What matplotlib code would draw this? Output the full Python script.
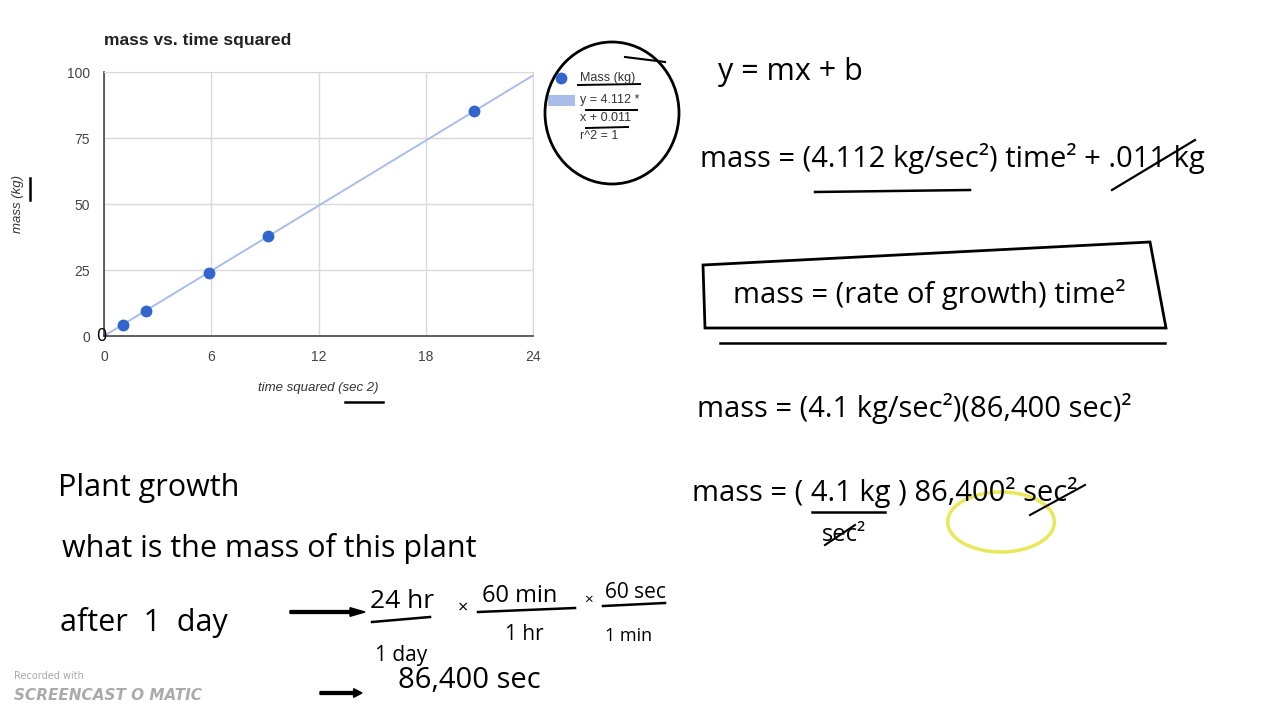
import matplotlib
matplotlib.use("Agg")
import matplotlib.pyplot as plt
from matplotlib.patches import Ellipse, Circle, Polygon, Rectangle
from matplotlib.lines import Line2D
import numpy as np

# ---- data ----
time_sq = [1.04, 2.34, 5.87, 9.19, 20.69]
mass = [4.2, 9.6, 23.9, 37.9, 85.2]
trend_slope = 4.112
trend_intercept = 0.011
trend_x = [0, 24]
x_ticks = [0, 6, 12, 18, 24]
y_ticks = [0, 25, 50, 75, 100]
title = "mass vs. time squared"
x_label = "time squared (sec 2)"
y_label = "mass (kg)"
series_label = "Mass (kg)"
trend_label_lines = ["y = 4.112 *", "x + 0.011", "r^2 = 1"]

W, H = 1280, 720
fig = plt.figure(figsize=(12.8, 7.2), dpi=100)
fig.patch.set_facecolor("white")

def fx(px):
    return px / W

def fy(py):
    return 1 - py / H

ax = fig.add_axes([fx(104), fy(336), fx(533) - fx(104), fy(72) - fy(336)])
chart_font = "Liberation Sans"

ax.plot(trend_x, [trend_slope * x + trend_intercept for x in trend_x],
        color="#a9bde8", lw=1.4, zorder=2)
ax.plot(time_sq, mass, "o", color="#3366cc", ms=7.5, zorder=3)

ax.set_xlim(0, 24)
ax.set_ylim(0, 100)
ax.set_xticks(x_ticks)
ax.set_yticks(y_ticks)
ax.grid(True, color="#d9d9d9", lw=1)
ax.set_axisbelow(True)
for s in ["top", "right"]:
    ax.spines[s].set_color("#d9d9d9")
for s in ["left", "bottom"]:
    ax.spines[s].set_color("#444444")
    ax.spines[s].set_linewidth(1.2)
ax.tick_params(length=0, pad=10, labelsize=10, labelcolor="#444444")
for lab in ax.get_xticklabels() + ax.get_yticklabels():
    lab.set_fontfamily(chart_font)

fig.text(fx(104), fy(41), title, fontsize=12.5, fontweight="bold", family=chart_font,
         va="center", ha="left", color="#222222")
fig.text(fx(318), fy(388), x_label, fontsize=9.5, style="italic", family=chart_font,
         ha="center", va="center", color="#333333")
fig.text(fx(18), fy(204), y_label, fontsize=9.5, style="italic", family=chart_font,
         ha="center", va="center", rotation=90, color="#333333")

# legend (outside right)
fig.add_artist(Line2D([fx(561)], [fy(78)], marker="o", color="#3366cc", ms=7.5,
                      ls="none", transform=fig.transFigure))
fig.add_artist(Rectangle((fx(548), fy(106)), fx(27), 11 / H, fc="#a9bde8", ec="none",
                         transform=fig.transFigure))
fig.text(fx(580), fy(78), series_label, fontsize=9, family=chart_font, color="#333333",
         va="center", ha="left")
for i, s in enumerate(trend_label_lines):
    fig.text(fx(580), fy(100 + 18 * i), s, fontsize=9, family=chart_font,
             color="#333333", va="center", ha="left")

# ---- handwritten annotations ----
hand = "Open Sans"
ink = "black"

def txt(x, y, s, size=21, **kw):
    fig.text(fx(x), fy(y), s, fontsize=size, family=hand, color=ink,
             va="center", ha="left", **kw)

def line(xs, ys, lw=1.8, color=ink):
    fig.add_artist(Line2D([fx(v) for v in xs], [fy(v) for v in ys], color=color,
                          lw=lw, transform=fig.transFigure))

# circle around legend
fig.add_artist(Ellipse((fx(612), fy(113)), fx(134), 142 / H, transform=fig.transFigure,
                       fill=False, ec=ink, lw=2))
line([625, 665], [57, 62], lw=1.5)
# marks on chart
txt(96, 336, "0", size=13)
line([345, 383], [402, 402], lw=1.8)
line([30, 30], [178, 200], lw=1.8)
line([578, 640], [85, 84], lw=1.4)
line([586, 637], [110, 110], lw=1.4)
line([586, 628], [128, 127], lw=1.4)

txt(718, 72, "y = mx + b", size=22)
txt(700, 158, "mass = (4.112 kg/sec²) time² + .011 kg", size=21)
line([815, 970], [192, 190])
line([1112, 1195], [190, 140], lw=1.6)

# box
fig.add_artist(Polygon([(fx(703), fy(265)), (fx(1150), fy(242)), (fx(1166), fy(328)),
                        (fx(705), fy(328))], closed=True, fill=False, ec=ink, lw=2,
                       transform=fig.transFigure))
line([720, 1165], [343, 343])
txt(733, 295, "mass = (rate of growth) time²", size=21)

txt(697, 408, "mass = (4.1 kg/sec²)(86,400 sec)²", size=21)
txt(692, 492, "mass = ( 4.1 kg ) 86,400² sec²", size=21)
line([812, 885], [512, 512])
txt(822, 535, "sec²", size=17)
line([825, 855], [545, 525], lw=1.5)
line([1030, 1085], [515, 485], lw=1.5)
fig.add_artist(Circle((fx(1001), fy(522)), 30 / H, transform=fig.transFigure,
                      fill=False, ec="#e8e85a", lw=2.5))

txt(58, 488, "Plant growth", size=22)
txt(62, 548, "what is the mass of this plant", size=22)
txt(60, 622, "after  1  day", size=22)
fig.add_artist(plt.Arrow(fx(290), fy(612), fx(75), 0, width=0.02,
                         transform=fig.transFigure, color=ink))
txt(370, 602, "24 hr", size=19)
line([372, 430], [622, 617])
txt(375, 655, "1 day", size=15)
txt(458, 608, "×", size=13)
txt(482, 596, "60 min", size=17)
line([478, 575], [612, 608])
txt(505, 635, "1 hr", size=15)
txt(584, 600, "×", size=11)
txt(605, 592, "60 sec", size=15)
line([603, 665], [606, 603])
txt(605, 636, "1 min", size=13)
fig.add_artist(plt.Arrow(fx(320), fy(693), fx(42), 0, width=0.02,
                         transform=fig.transFigure, color=ink))
txt(398, 680, "86,400 sec", size=21)

# watermark
fig.text(fx(14), fy(676), "Recorded with", fontsize=7, color="#aaaaaa", family="DejaVu Sans",
         va="center")
fig.text(fx(14), fy(695), "SCREENCAST O MATIC", fontsize=11, color="#aaaaaa",
         family="DejaVu Sans", fontweight="bold", style="italic", va="center")

fig.savefig("out.png", dpi=100, facecolor="white")
